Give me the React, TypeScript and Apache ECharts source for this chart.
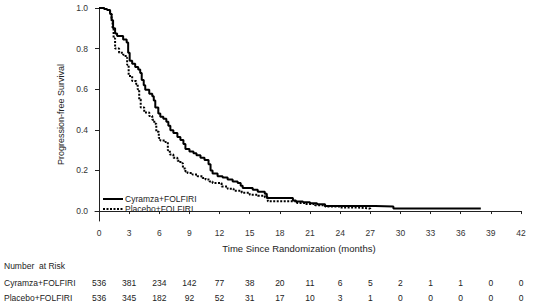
import React, { useEffect, useRef } from "react";
import * as echarts from "echarts";

const cyramzaT = [0, 0.5, 0.8, 1.1, 1.25, 1.4, 1.6, 1.8, 2.4, 2.75, 2.9, 3.05, 3.3, 3.6, 3.9, 4.1, 4.25, 4.45, 4.6, 5.0, 5.3, 5.45, 5.6, 5.9, 6.1, 6.4, 6.7, 6.9, 7.1, 7.4, 7.8, 8.1, 8.4, 8.6, 9.0, 9.4, 9.7, 10.1, 10.5, 10.9, 11.1, 11.3, 11.8, 12.3, 12.8, 13.3, 13.8, 14.1, 14.3, 15.3, 15.8, 16.5, 16.7, 19.0, 19.3, 19.6, 20.3, 21.0, 21.7, 22.5, 27.5, 29.3, 38.0];
const cyramzaS = [1.0, 0.995, 0.99, 0.97, 0.94, 0.9, 0.875, 0.862, 0.845, 0.83, 0.78, 0.74, 0.725, 0.71, 0.697, 0.68, 0.645, 0.62, 0.597, 0.578, 0.565, 0.545, 0.51, 0.48, 0.465, 0.455, 0.44, 0.42, 0.398, 0.384, 0.365, 0.35, 0.33, 0.305, 0.293, 0.285, 0.275, 0.262, 0.252, 0.23, 0.2, 0.185, 0.172, 0.165, 0.155, 0.145, 0.138, 0.125, 0.113, 0.105, 0.095, 0.085, 0.064, 0.064, 0.052, 0.047, 0.043, 0.039, 0.033, 0.025, 0.023, 0.013, 0.013];

const placeboT = [0, 0.5, 0.8, 1.1, 1.25, 1.35, 1.45, 1.6, 2.0, 2.4, 2.65, 2.8, 2.95, 3.3, 3.7, 3.85, 4.0, 4.15, 4.5, 5.0, 5.3, 5.5, 5.7, 5.95, 6.1, 6.6, 6.85, 7.05, 7.4, 7.8, 8.1, 8.35, 8.6, 8.8, 9.3, 9.8, 10.3, 10.6, 11.0, 11.3, 12.2, 12.8, 13.4, 14.2, 15.0, 15.8, 16.5, 16.8, 19.2, 19.7, 20.5, 21.5, 22.5, 24.0, 25.5, 26.5, 27.0];
const placeboS = [1.0, 0.995, 0.99, 0.97, 0.94, 0.9, 0.85, 0.8, 0.78, 0.77, 0.755, 0.72, 0.665, 0.64, 0.625, 0.6, 0.55, 0.51, 0.485, 0.468, 0.45, 0.43, 0.39, 0.36, 0.348, 0.34, 0.3, 0.278, 0.262, 0.248, 0.235, 0.21, 0.195, 0.188, 0.18, 0.172, 0.163, 0.155, 0.145, 0.138, 0.121, 0.11, 0.1, 0.09, 0.08, 0.075, 0.068, 0.048, 0.048, 0.04, 0.035, 0.028, 0.022, 0.018, 0.015, 0.012, 0.008];

const xTicks = [0, 3, 6, 9, 12, 15, 18, 21, 24, 27, 30, 33, 36, 39, 42];
const yTicks = [0, 0.2, 0.4, 0.6, 0.8, 1.0];
const atRiskCyramza = [536, 381, 234, 142, 77, 38, 20, 11, 6, 5, 2, 1, 1, 0, 0];
const atRiskPlacebo = [536, 345, 182, 92, 52, 31, 17, 10, 3, 1, 0, 0, 0, 0, 0];
const seriesNames = ["Cyramza+FOLFIRI", "Placebo+FOLFIRI"];

const FONT = "'Liberation Sans', Arial, sans-serif";
const DOT = [2, 1.5];

export default function App() {
  const ref = useRef<HTMLDivElement>(null);
  useEffect(() => {
    if (!ref.current) return;
    const chart = echarts.init(ref.current, undefined, { renderer: "svg" });
    const xMin = -0.4;
    const yMin = -0.049;
    const riskAxis = (vals: number[], margin: number) => ({
      type: "value",
      min: xMin,
      max: 42,
      position: "bottom",
      axisLine: { show: false },
      axisTick: { show: false },
      splitLine: { show: false },
      axisLabel: {
        customValues: xTicks,
        margin,
        fontSize: 8.5,
        fontFamily: FONT,
        color: "#222",
        formatter: (v: number) => {
          const i = xTicks.indexOf(Math.round(v));
          return i >= 0 ? String(vals[i]) : "";
        },
      },
    });
    const txt = { fontSize: 8.5, fontFamily: FONT, fill: "#222" };
    chart.setOption({
      animation: false,
      grid: { left: 95, right: 18, top: 8, bottom: 84 },
      xAxis: [
        {
          type: "value",
          min: xMin,
          max: 42,
          position: "bottom",
          axisLine: { show: true, lineStyle: { color: "#222", width: 1 } },
          axisTick: { show: true, customValues: xTicks, length: 3, lineStyle: { color: "#222" } },
          splitLine: { show: false },
          axisLabel: {
            customValues: xTicks,
            margin: 7,
            fontSize: 8.5,
            fontFamily: FONT,
            color: "#333",
          },
        },
        riskAxis(atRiskCyramza, 57),
        riskAxis(atRiskPlacebo, 72),
      ],
      yAxis: {
        type: "value",
        min: yMin,
        max: 1.0,
        axisLine: { show: true, lineStyle: { color: "#222", width: 1 } },
        axisTick: { show: true, customValues: yTicks, length: 4, lineStyle: { color: "#222" } },
        splitLine: { show: false },
        axisLabel: {
          customValues: yTicks,
          margin: 7,
          fontSize: 8.5,
          fontFamily: FONT,
          color: "#333",
          formatter: (v: number) => v.toFixed(1),
        },
        name: "Progression-free Survival",
        nameLocation: "middle",
        nameGap: 27,
        nameTextStyle: { fontSize: 9, fontFamily: FONT, color: "#222" },
      },
      graphic: [
        { type: "text", x: 299, y: 248, style: { text: "Time Since Randomization (months)", fontSize: 9.5, fontFamily: FONT, fill: "#222", align: "center", verticalAlign: "middle" } },
        { type: "text", left: 4, top: 261, style: { text: "Number  at Risk", ...txt } },
        { type: "text", left: 4, top: 278, style: { text: seriesNames[0], ...txt } },
        { type: "text", left: 4, top: 293, style: { text: seriesNames[1], ...txt } },
        { type: "line", shape: { x1: 103, y1: 199, x2: 123, y2: 199 }, style: { stroke: "#000", lineWidth: 2 } },
        { type: "line", shape: { x1: 103, y1: 209, x2: 123, y2: 209 }, style: { stroke: "#000", lineWidth: 2, lineDash: DOT } },
        { type: "text", x: 125, y: 199, style: { text: seriesNames[0], ...txt, verticalAlign: "middle" } },
        { type: "text", x: 125, y: 209, style: { text: seriesNames[1], ...txt, verticalAlign: "middle" } },
      ],
      series: [
        {
          name: seriesNames[0],
          type: "line",
          step: "end",
          symbol: "none",
          data: cyramzaT.map((t, i) => [t, cyramzaS[i]]),
          lineStyle: { color: "#000", width: 2 },
        },
        {
          name: seriesNames[1],
          type: "line",
          step: "end",
          symbol: "none",
          data: placeboT.map((t, i) => [t, placeboS[i]]),
          lineStyle: { color: "#000", width: 2, type: DOT },
        },
      ],
    });
    return () => chart.dispose();
  }, []);
  return <div ref={ref} style={{ width: 539, height: 305, position: "absolute", left: 0, top: 0 }} />;
}
